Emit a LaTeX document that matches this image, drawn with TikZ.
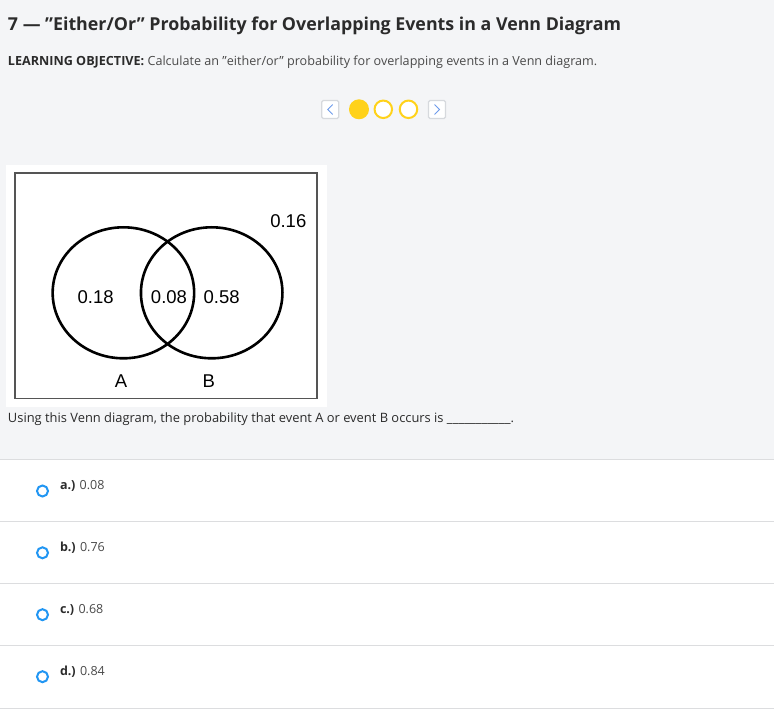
\documentclass[tikz,border=0pt]{standalone}
\usepackage{fontspec}
\setmainfont{Open Sans}
\newfontfamily\arialfont{Liberation Sans}
\usetikzlibrary{shapes.geometric}
\definecolor{pagebg}{HTML}{F4F5F7}
\definecolor{sepgray}{HTML}{DCDDDF}
\definecolor{titlecol}{HTML}{2B2B2B}
\definecolor{bodycol}{HTML}{4A4A4A}
\definecolor{navyellow}{HTML}{FFD21A}
\definecolor{navborder}{HTML}{D6D9DD}
\definecolor{navarrow}{HTML}{6D9BEB}
\definecolor{radioblue}{HTML}{2196F3}
\definecolor{boxgray}{HTML}{555555}
\newcommand{\dq}{\symbol{34}}
\tikzset{
  txt/.style={anchor=base west, inner sep=0pt, outer sep=0pt},
  sepline/.style={draw=sepgray, line width=1pt},
  navbox/.style={draw=navborder, fill=white, line width=1.2pt, rounded corners=1.5pt, minimum width=17pt, minimum height=18pt, inner sep=0pt},
  chev/.style={draw=navarrow, line width=0.8pt},
  dotfull/.style={circle, fill=navyellow, minimum size=20pt, inner sep=0pt},
  dotempty/.style={circle, draw=navyellow, fill=white, line width=2pt, minimum size=17.5pt, inner sep=0pt},
  vennset/.style={ellipse, draw=black, line width=2.6pt, minimum width=141.5pt, minimum height=131pt, inner sep=0pt},
  vennlbl/.style={inner sep=0pt, font=\arialfont\fontsize{18.5}{20}\selectfont},
  radio/.style={circle, draw=radioblue, line width=2pt, fill=white, minimum size=11pt, inner sep=0pt},
  opt/.style={txt, font=\fontsize{12.5}{14}\selectfont, text=bodycol},
}
\begin{document}
\begin{tikzpicture}[x=1pt,y=-1pt]
\useasboundingbox (0,0) rectangle (774,711);
\fill[white] (0,0) rectangle (774,711);
\fill[pagebg] (0,0) rectangle (774,459);

% title and objective
\node[txt, text=titlecol, font=\fontsize{17.8}{22}\selectfont\bfseries] (title) at (8,30.5)
  {7 — \dq Either/Or\dq\ Probability for Overlapping Events in a Venn Diagram};
\node[txt, text=bodycol, font=\fontsize{12.6}{14}\selectfont] (objective) at (8,66)
  {{\bfseries\color{titlecol}LEARNING OBJECTIVE:} Calculate an \dq either/or\dq\ probability for overlapping events in a Venn diagram.};

% navigation
\node[navbox] (navL) at (330.2,109.5) {};
\draw[chev] ([shift={(2.5,-5)}]navL.center) -- ([shift={(-2.5,0)}]navL.center) -- ([shift={(2.5,5)}]navL.center);
\node[dotfull] (dot1) at (359,109.3) {};
\node[dotempty] (dot2) at (383.3,109.3) {};
\node[dotempty] (dot3) at (408.5,109.3) {};
\node[navbox] (navR) at (437,109.5) {};
\draw[chev] ([shift={(-2.5,-5)}]navR.center) -- ([shift={(2.5,0)}]navR.center) -- ([shift={(-2.5,5)}]navR.center);

% Venn diagram image
\node[fill=white, minimum width=321pt, minimum height=242pt, inner sep=0pt, anchor=north west] (venncard) at (6,165) {};
\node[draw=boxgray, line width=1.1pt, minimum width=302pt, minimum height=225.5pt, inner sep=0pt] (vennbox) at (166,285.8) {};
\node[vennset] (setA) at (123.4,292.8) {};
\node[vennset] (setB) at (211.7,292.8) {};
\node[vennlbl] (pA) at (95.7,296.7) {0.18};
\node[vennlbl] (pAB) at (169,296.7) {0.08};
\node[vennlbl] (pB) at (221.7,296.7) {0.58};
\node[vennlbl] (pN) at (288.3,221) {0.16};
\node[vennlbl] (lA) at (121,380.7) {A};
\node[vennlbl] (lB) at (208.7,380.7) {B};

% question
\node[txt, text=titlecol, font=\fontsize{12.9}{14}\selectfont] (question) at (8,422.5)
  {Using this Venn diagram, the probability that event A or event B occurs is \_\_\_\_\_\_\_\_\_\_\_.};

% options
\draw[sepline] (0,459.5) -- (774,459.5);
\draw[sepline] (0,521.5) -- (774,521.5);
\draw[sepline] (0,583.5) -- (774,583.5);
\draw[sepline] (0,645.5) -- (774,645.5);
\draw[sepline] (0,708.5) -- (774,708.5);

\node[radio] (ra) at (42.5,491) {};
\node[opt] (oa) at (60,489.5) {{\bfseries\color{titlecol}a.)} 0.08};
\node[radio] (rb) at (42.5,552.8) {};
\node[opt] (ob) at (60,551.3) {{\bfseries\color{titlecol}b.)} 0.76};
\node[radio] (rc) at (42.5,614.7) {};
\node[opt] (oc) at (60,613.3) {{\bfseries\color{titlecol}c.)} 0.68};
\node[radio] (rd) at (42.5,676.7) {};
\node[opt] (od) at (60,675.3) {{\bfseries\color{titlecol}d.)} 0.84};
\end{tikzpicture}
\end{document}
